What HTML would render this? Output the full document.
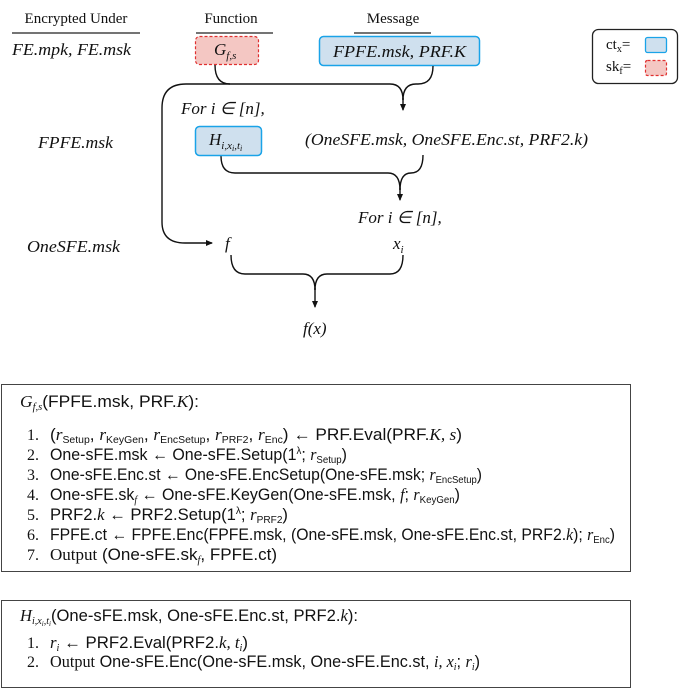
<!DOCTYPE html>
<html><head><meta charset="utf-8"><style>
html,body{margin:0;padding:0;background:#fff;}
svg{display:block;}
.h{font-family:"Liberation Serif",serif;font-size:15px;fill:#111;}
.m{font-family:"Liberation Serif",serif;font-style:italic;font-size:17px;fill:#111;}
.t{font-family:"Liberation Sans",sans-serif;font-size:16.5px;fill:#111;}
.n{font-family:"Liberation Serif",serif;font-size:16px;fill:#111;}
.i{font-family:"Liberation Serif",serif;font-style:italic;}
</style></head><body>
<svg width="685" height="689" viewBox="0 0 685 689" xmlns="http://www.w3.org/2000/svg">
<defs><marker id="a" markerWidth="8" markerHeight="8" refX="6" refY="4" orient="auto" markerUnits="userSpaceOnUse"><path d="M0,1 L7,4 L0,7 Z" fill="#111"/></marker></defs>
<text class="h" x="76" y="23" text-anchor="middle">Encrypted Under</text>
<line x1="12" y1="33" x2="140" y2="33" stroke="#222" stroke-width="1.3"/>
<text class="h" x="231" y="23" text-anchor="middle">Function</text>
<line x1="196" y1="33" x2="273" y2="33" stroke="#222" stroke-width="1.3"/>
<text class="h" x="393" y="23" text-anchor="middle">Message</text>
<line x1="354" y1="33" x2="431" y2="33" stroke="#222" stroke-width="1.3"/>
<text class="m" x="12" y="55" textLength="119" lengthAdjust="spacingAndGlyphs">FE.mpk, FE.msk</text>
<rect x="195.5" y="36.5" width="63" height="28" rx="4" fill="#f4c7c3" stroke="#e03030" stroke-dasharray="3,2" stroke-width="1.2"/>
<text class="m" x="214" y="55">G<tspan font-size="11" dy="4">f,s</tspan></text>
<rect x="319.5" y="36.5" width="160" height="29" rx="4" fill="#cfe0ee" stroke="#1aa3e8" stroke-width="1.5"/>
<text class="m" x="333" y="57" textLength="133" lengthAdjust="spacingAndGlyphs">FPFE.msk, PRF.K</text>
<rect x="592.5" y="29.5" width="85" height="54" rx="6" fill="#fff" stroke="#222" stroke-width="1.3"/>
<text class="h" x="606" y="49">ct<tspan font-size="10" dy="3">x</tspan><tspan dy="-3">=</tspan></text>
<rect x="645.5" y="37.5" width="21" height="15" rx="2" fill="#cfe0ee" stroke="#1aa3e8" stroke-width="1.3"/>
<text class="h" x="606" y="71">sk<tspan font-size="10" dy="3">f</tspan><tspan dy="-3">=</tspan></text>
<rect x="645.5" y="60.5" width="21" height="15" rx="2" fill="#f4c7c3" stroke="#e03030" stroke-dasharray="3,2" stroke-width="1.2"/>
<g fill="none" stroke="#111" stroke-width="1.4">
<path d="M215,65 Q215,84 230,84 L390,84 Q403,84 403,100"/>
<path d="M433,66 Q433,84 418,84 L416,84 Q403,84 403,100"/>
<path d="M403,98 L403,110" marker-end="url(#a)"/>
<path d="M230,84 L186,84 Q162,84 162,108 L162,222 Q162,243 185,243 L212,243" marker-end="url(#a)"/>
<path d="M221,156 Q221,173 235,173 L388,173 Q400,173 400,190"/>
<path d="M423,155 Q423,173 411,173 Q400,173 400,190"/>
<path d="M400,188 L400,200" marker-end="url(#a)"/>
<path d="M231,255 Q231,274 245,274 L303,274 Q315,274 315,290"/>
<path d="M403,255 Q403,274 390,274 L327,274 Q315,274 315,290"/>
<path d="M315,288 L315,307" marker-end="url(#a)"/>
</g>
<text class="m" x="181" y="114">For i ∈ [n],</text>
<text class="m" x="38" y="148" textLength="75" lengthAdjust="spacingAndGlyphs">FPFE.msk</text>
<rect x="195.5" y="126.5" width="66" height="29" rx="4" fill="#cfe0ee" stroke="#1aa3e8" stroke-width="1.5"/>
<text class="m" x="209" y="145">H<tspan font-size="11" dy="4">i,x<tspan font-size="8" dy="2">i</tspan><tspan dy="-2">,t</tspan><tspan font-size="8" dy="2">i</tspan></tspan></text>
<text class="m" x="305" y="145" textLength="283" lengthAdjust="spacingAndGlyphs">(OneSFE.msk, OneSFE.Enc.st, PRF2.k)</text>
<text class="m" x="358" y="223">For i ∈ [n],</text>
<text class="m" x="27" y="252" textLength="93" lengthAdjust="spacingAndGlyphs">OneSFE.msk</text>
<text class="m" x="225" y="249">f</text>
<text class="m" x="393" y="249">x<tspan font-size="11" dy="4">i</tspan></text>
<text class="m" x="303" y="334">f(x)</text>
<rect x="1.5" y="384.5" width="629" height="187" fill="#fff" stroke="#444" stroke-width="1"/>
<text class="t" x="20" y="407" textLength="179" lengthAdjust="spacingAndGlyphs"><tspan class="i">G</tspan><tspan class="i" font-size="10" dy="3">f,s</tspan><tspan dy="-3">(FPFE.msk, PRF.</tspan><tspan class="i">K</tspan>):</text>
<g class="n"><text x="27" y="440">1.</text><text x="27" y="460">2.</text><text x="27" y="480">3.</text><text x="27" y="500">4.</text><text x="27" y="520">5.</text><text x="27" y="540">6.</text><text x="27" y="560">7.</text></g>
<text class="t" x="50" y="440" textLength="412" lengthAdjust="spacingAndGlyphs">(<tspan class="i">r</tspan><tspan font-size="10" dy="3">Setup</tspan><tspan dy="-3">, </tspan><tspan class="i">r</tspan><tspan font-size="10" dy="3">KeyGen</tspan><tspan dy="-3">, </tspan><tspan class="i">r</tspan><tspan font-size="10" dy="3">EncSetup</tspan><tspan dy="-3">, </tspan><tspan class="i">r</tspan><tspan font-size="10" dy="3">PRF2</tspan><tspan dy="-3">, </tspan><tspan class="i">r</tspan><tspan font-size="10" dy="3">Enc</tspan><tspan dy="-3">) ← PRF.Eval(PRF.</tspan><tspan class="i">K, s</tspan>)</text>
<text class="t" x="50" y="460" textLength="297" lengthAdjust="spacingAndGlyphs">One-sFE.msk ← One-sFE.Setup(1<tspan font-size="10" dy="-6">λ</tspan><tspan dy="6">; </tspan><tspan class="i">r</tspan><tspan font-size="10" dy="3">Setup</tspan><tspan dy="-3">)</tspan></text>
<text class="t" x="50" y="480" textLength="432" lengthAdjust="spacingAndGlyphs">One-sFE.Enc.st ← One-sFE.EncSetup(One-sFE.msk; <tspan class="i">r</tspan><tspan font-size="10" dy="3">EncSetup</tspan><tspan dy="-3">)</tspan></text>
<text class="t" x="50" y="500" textLength="410" lengthAdjust="spacingAndGlyphs">One-sFE.sk<tspan class="i" font-size="10" dy="3">f</tspan><tspan dy="-3"> ← One-sFE.KeyGen(One-sFE.msk, </tspan><tspan class="i">f</tspan>; <tspan class="i">r</tspan><tspan font-size="10" dy="3">KeyGen</tspan><tspan dy="-3">)</tspan></text>
<text class="t" x="50" y="520" textLength="238" lengthAdjust="spacingAndGlyphs">PRF2.<tspan class="i">k</tspan> ← PRF2.Setup(1<tspan font-size="10" dy="-6">λ</tspan><tspan dy="6">; </tspan><tspan class="i">r</tspan><tspan font-size="10" dy="3">PRF2</tspan><tspan dy="-3">)</tspan></text>
<text class="t" x="50" y="540" textLength="565" lengthAdjust="spacingAndGlyphs">FPFE.ct ← FPFE.Enc(FPFE.msk, (One-sFE.msk, One-sFE.Enc.st, PRF2.<tspan class="i">k</tspan>); <tspan class="i">r</tspan><tspan font-size="10" dy="3">Enc</tspan><tspan dy="-3">)</tspan></text>
<text class="t" x="50" y="560" textLength="227" lengthAdjust="spacingAndGlyphs"><tspan font-family="Liberation Serif">Output</tspan> (One-sFE.sk<tspan class="i" font-size="10" dy="3">f</tspan><tspan dy="-3">, FPFE.ct)</tspan></text>
<rect x="1.5" y="600.5" width="629" height="87" fill="#fff" stroke="#444" stroke-width="1"/>
<text class="t" x="20" y="621" textLength="338" lengthAdjust="spacingAndGlyphs"><tspan class="i">H</tspan><tspan class="i" font-size="10" dy="3">i,x</tspan><tspan class="i" font-size="7" dy="2">i</tspan><tspan class="i" font-size="10" dy="-2">,t</tspan><tspan class="i" font-size="7" dy="2">i</tspan><tspan dy="-5">(One-sFE.msk, One-sFE.Enc.st, PRF2.</tspan><tspan class="i">k</tspan>):</text>
<text class="n" x="27" y="648">1.</text><text class="n" x="27" y="667">2.</text>
<text class="t" x="50" y="648" textLength="198" lengthAdjust="spacingAndGlyphs"><tspan class="i">r</tspan><tspan class="i" font-size="10" dy="3">i</tspan><tspan dy="-3"> ← PRF2.Eval(PRF2.</tspan><tspan class="i">k, t</tspan><tspan class="i" font-size="10" dy="3">i</tspan><tspan dy="-3">)</tspan></text>
<text class="t" x="50" y="667" textLength="430" lengthAdjust="spacingAndGlyphs"><tspan font-family="Liberation Serif">Output</tspan> One-sFE.Enc(One-sFE.msk, One-sFE.Enc.st, <tspan class="i">i, x</tspan><tspan class="i" font-size="10" dy="3">i</tspan><tspan dy="-3">; </tspan><tspan class="i">r</tspan><tspan class="i" font-size="10" dy="3">i</tspan><tspan dy="-3">)</tspan></text>
</svg>
</body></html>
